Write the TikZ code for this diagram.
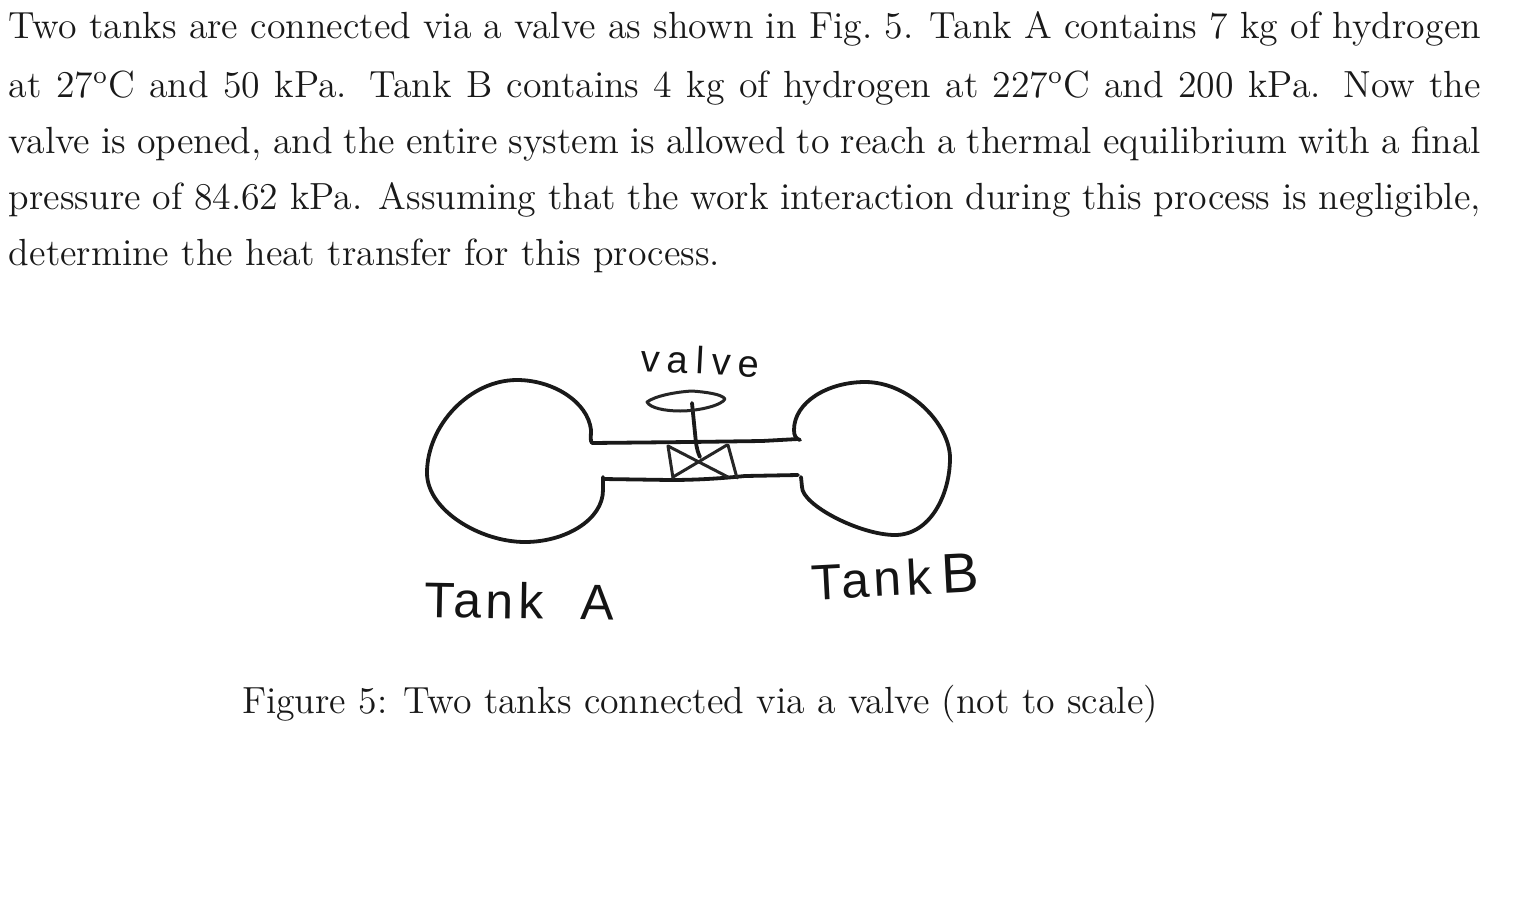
\documentclass[tikz,border=0pt]{standalone}
\usepackage{graphicx}
\usepackage{fontspec}
\newfontfamily\handfont{Liberation Sans}
\tikzset{
  ink/.style={line width=3.8pt,line cap=round,line join=round,black!90},
  thin ink/.style={line width=3pt,line cap=round,line join=round,black!85},
  bodyline/.style={anchor=base west,inner sep=0pt,outer sep=0pt,black!90},
  handlabel/.style={anchor=base west,inner sep=0pt,outer sep=0pt,black!92,font=\handfont\fontsize{50}{54}\selectfont}
}
\newcommand{\bd}[1]{\scalebox{3.15}{\fontsize{12}{14.5}\selectfont #1}}
\newcommand{\fl}[1]{\scalebox{3.15}{\fontsize{12}{14.5}\selectfont\hbox to 467.3pt{#1}}}
\begin{document}
\begin{tikzpicture}[x=1pt,y=-1pt]
\useasboundingbox (0,0) rectangle (1528,907);
\node[bodyline] (l1) at (9,39) {\fl{Two tanks are connected via a valve as shown in Fig.~5. Tank A contains 7 kg of hydrogen}};
\node[bodyline] (l2) at (9,97) {\fl{at 27$^{\mathrm{o}}$C and 50 kPa. Tank B contains 4 kg of hydrogen at 227$^{\mathrm{o}}$C and 200 kPa. Now the}};
\node[bodyline] (l3) at (9,153) {\fl{valve is opened, and the entire system is allowed to reach a thermal equilibrium with a final}};
\node[bodyline] (l4) at (9,209) {\fl{pressure of 84.62 kPa. Assuming that the work interaction during this process is negligible,}};
\node[bodyline] (l5) at (9,265) {\bd{determine the heat transfer for this process.}};
\node[bodyline] (cap) at (242,713) {\bd{Figure 5: Two tanks connected via a valve (not to scale)}};
% tank A
\draw[ink] (592,443) .. controls (590,441) and (591,436) .. (591,430)
  .. controls (588,402) and (553,380) .. (517,380)
  .. controls (470,380) and (427,425) .. (427,473)
  .. controls (427,510) and (480,542) .. (525,542)
  .. controls (565,542) and (603,520) .. (603,490) -- (603,477);
% tank B
\draw[ink] (800,440) .. controls (796,439) and (794,436) .. (794,430)
  .. controls (794,402) and (828,382) .. (865,382)
  .. controls (910,382) and (950,425) .. (950,458)
  .. controls (950,495) and (930,535) .. (895,535)
  .. controls (860,535) and (802,505) .. (802,487) -- (801,477);
% pipes
\draw[ink] (592,443) -- (690,442) -- (762,441) -- (798,439);
\draw[ink] (603,479) -- (670,480) .. controls (700,480) and (725,478) .. (745,476) -- (798,475);
% valve body
\draw[thin ink] (668,446) -- (673,478);
\draw[thin ink] (728,445) -- (737,478);
\draw[thin ink] (668,446) -- (728,477);
\draw[thin ink] (673,477) -- (727,445);
% stem and handle
\draw[ink] (692,403) -- (696,443) .. controls (697,449) and (698,453) .. (700,457);
\draw[thin ink] (647,402) .. controls (655,396) and (675,392) .. (692,391)
  .. controls (705,392) and (722,394) .. (725,399)
  .. controls (722,405) and (700,411) .. (680,411)
  .. controls (665,411) and (650,408) .. (647,402) -- cycle;
% labels
\node[handlabel,rotate=-3] (valve) at (640,371) {\fontsize{38}{40}\selectfont\addfontfeature{LetterSpace=20}valve};
\node[handlabel,rotate=-1] (tanka) at (424,617) {\addfontfeature{LetterSpace=9}Tank\hspace{0.75em}A};
\node[handlabel,rotate=3] (tankb) at (812,600) {\addfontfeature{LetterSpace=10}Tank\hspace{0.2em}{\fontsize{56}{58}\selectfont B}};
\end{tikzpicture}
\end{document}
